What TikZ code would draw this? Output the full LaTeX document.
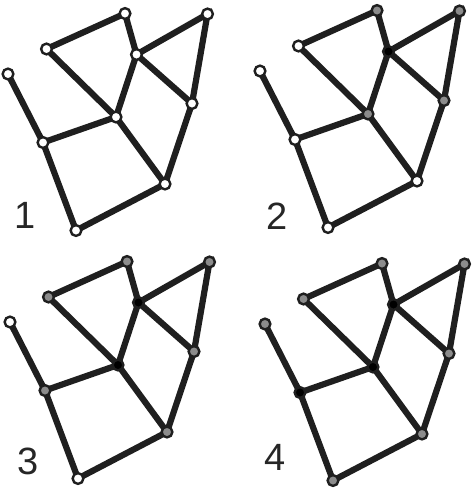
\documentclass[tikz,border=0pt]{standalone}
\usepackage{fontspec}
\setmainfont{Liberation Sans}
\usetikzlibrary{backgrounds}
\begin{document}
\begin{tikzpicture}[x=1pt,y=-1pt,
  edge/.style={line width=6.2pt, draw=black!88, line cap=round},
  vtx/.style={circle, draw=black!88, line width=2.4pt, minimum size=10.8pt, inner sep=0pt},
  w/.style={vtx, fill=white},
  g/.style={vtx, fill=black!45},
  b/.style={vtx, fill=black},
  num/.style={font=\fontsize{38}{38}\selectfont, inner sep=0pt, text=black!85}]
\useasboundingbox (0,0) rectangle (474,488);
\foreach \p/\dx/\dy/\cA/\cB/\cC/\cD/\cE/\cF/\cG/\cH/\cI/\cJ/\lab/\lx/\ly in {
  1/0/0/w/w/w/w/w/w/w/w/w/w/1/25.5/215.5,
  2/252/-3/w/w/g/g/b/g/g/w/w/w/2/277/216,
  3/2/248/w/g/g/g/b/g/b/g/g/w/3/28.5/461,
  4/257/250/g/g/g/g/b/g/b/b/g/g/4/275/457.5}{
  \begin{scope}[shift={(\dx,\dy)}]
    \node[\cA] (p\p A) at (8,74) {};
    \node[\cB] (p\p B) at (46.5,49) {};
    \node[\cC] (p\p C) at (125,13.5) {};
    \node[\cD] (p\p D) at (207.5,14) {};
    \node[\cE] (p\p E) at (136.5,54.5) {};
    \node[\cF] (p\p F) at (192,103.5) {};
    \node[\cG] (p\p G) at (116,117) {};
    \node[\cH] (p\p H) at (43,142.5) {};
    \node[\cI] (p\p I) at (165,184) {};
    \node[\cJ] (p\p J) at (76,230.5) {};
  \end{scope}
  \begin{scope}[on background layer]
    \draw[edge] (p\p A.center) -- (p\p H.center) -- (p\p J.center) -- (p\p I.center) -- (p\p F.center) -- (p\p D.center) -- (p\p E.center) -- (p\p C.center) -- (p\p B.center) -- (p\p G.center) -- (p\p H.center);
    \draw[edge] (p\p G.center) -- (p\p E.center) -- (p\p F.center);
    \draw[edge] (p\p G.center) -- (p\p I.center);
  \end{scope}
  \node[num] (lab\p) at (\lx,\ly) {\lab};
}
\end{tikzpicture}
\end{document}
